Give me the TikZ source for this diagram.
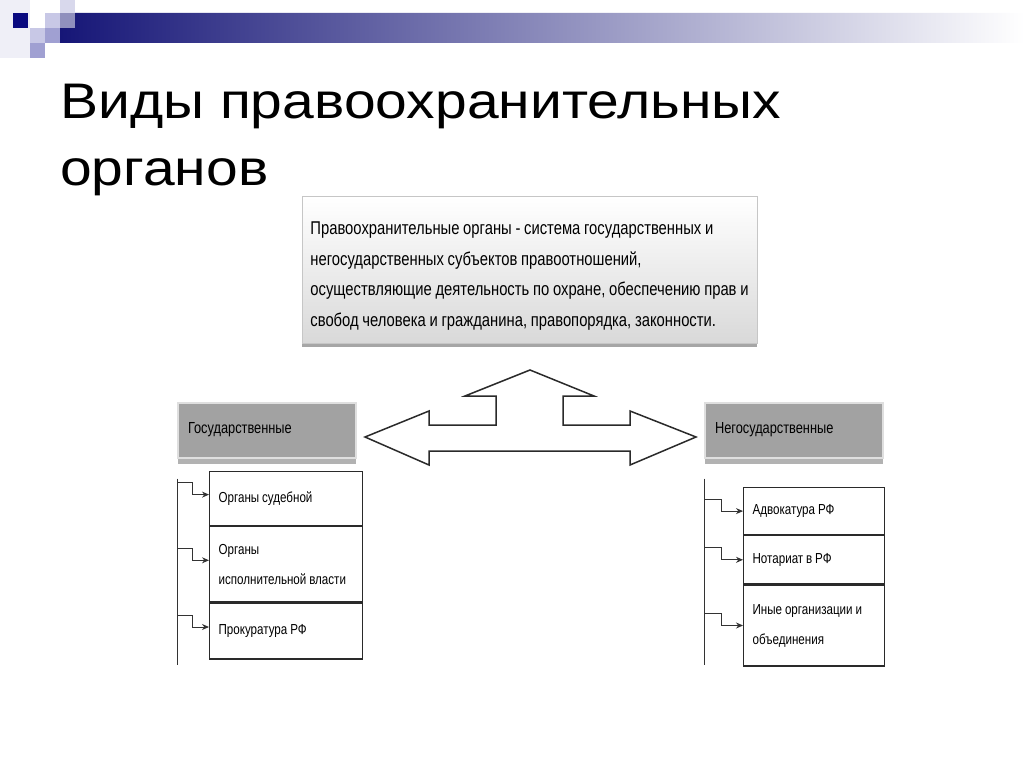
\documentclass[tikz,border=0pt]{standalone}
\usepackage{fontspec}
\setmainfont{Liberation Sans}
\newfontfamily\narrowfont[FakeStretch=0.8]{Liberation Sans}
\newfontfamily\titlefont[FakeStretch=1.14]{Liberation Sans}
\newcommand*{\tightspace}{\spaceskip=0.2em plus 0.04em minus 0.02em\relax}
\usetikzlibrary{positioning}
\usetikzlibrary{shadows,calc}
\usetikzlibrary{arrows,arrows.meta}
\definecolor{barnavy}{HTML}{161677}
\definecolor{barmid}{HTML}{ABABBF}
\definecolor{sqnavy}{HTML}{0A0A80}
\definecolor{sqlight}{HTML}{C8C8E6}
\definecolor{sqmid}{HTML}{A0A0D2}
\definecolor{sqpale}{HTML}{D8D8EC}
\definecolor{hdrgray}{HTML}{A2A2A2}
\definecolor{boxline}{HTML}{2A2A2A}

\begin{document}
\begin{tikzpicture}[x=1pt,y=-1pt,
    hdr/.style={draw=gray!25, line width=2pt, fill=hdrgray,
        minimum width=178pt, minimum height=55pt,
        text width=158pt, inner xsep=10pt, align=left,
        font=\narrowfont\fontsize{16}{19}\selectfont,
        execute at begin node=\tightspace,
        drop shadow={shadow xshift=0pt, shadow yshift=-6pt, fill=gray!60, opacity=1}},
    item/.style={draw=boxline, line width=1.2pt, fill=white,
        inner xsep=9pt, align=left,
        font=\narrowfont\fontsize{14.5}{30}\selectfont,
        execute at begin node=\tightspace},
    conn/.style={-{Stealth[length=7pt,width=6pt]}, line width=0.9pt, draw=black!80}
]
\useasboundingbox (0,0) rectangle (1024,767);

% Top bar and squares
\fill[sqpale!40] (0,0) rectangle (30,58);
\shade[left color=barnavy, middle color=barmid, right color=white]
    (60,28) -- (75,28) -- (75,13) -- (1024,13) -- (1024,43) -- (60,43) -- cycle;
\fill[sqnavy] (13,13) rectangle (28,28);
\fill[sqlight] (30,28) rectangle (45,43);
\fill[sqmid] (30,43) rectangle (45,58);
\fill[sqlight] (45,13) rectangle (60,28);
\fill[sqmid] (45,28) rectangle (60,43);
\fill[sqmid!90!black] (60,13) rectangle (75,28);
\fill[sqpale] (60,0) rectangle (75,13);

% Title
\node[anchor=north west, inner sep=0pt, align=left,
      font=\titlefont\fontsize{50}{67}\selectfont] (title) at (60,84)
    {Виды правоохранительных\\органов};

% Definition
\node[draw=gray!45, line width=1pt, top color=white, bottom color=gray!30,
      minimum width=455pt, minimum height=146pt, align=left,
      font=\narrowfont\fontsize{18.5}{30.5}\selectfont,
      execute at begin node=\tightspace,
      drop shadow={shadow xshift=0pt, shadow yshift=-4pt, fill=gray!70, opacity=1}
] (def) at (529.5,270)
    {\rule{0pt}{25pt}Правоохранительные органы - система государственных и\\
     негосударственных субъектов правоотношений,\\
     осуществляющие деятельность по охране, обеспечению прав и\\
     свобод человека и гражданина, правопорядка, законности.};

% Kinds
\node[hdr] (gov) at (267,430) {Государственные\\[8pt]};
\node[hdr] (nongov) at (794,430) {Негосударственные\\[8pt]};

% Block arrow
\coordinate (hub) at (530,437);
\draw[line width=1.5pt, draw=boxline, fill=white, line join=miter]
    ($(hub)+(-165,0)$) -- ++(64,-26) -- ++(0,14) -- ++(67,0) -- ++(0,-29)
    -- ++(-31,0) -- ++(65,-26) -- ++(64,26) -- ++(-31,0) -- ++(0,29)
    -- ++(67,0) -- ++(0,-14) -- ++(66,26) -- ++(-66,28) -- ++(0,-14)
    -- ++(-201,0) -- ++(0,14) -- cycle;

% State bodies
\node[item, anchor=north west, minimum width=153pt, minimum height=54pt, text width=135pt]
    (g1) at (209,471) {Органы судебной\\[-10pt]};
\node[item, below=0pt of g1, minimum width=153pt, minimum height=75pt, text width=135pt]
    (g2) {Органы\\исполнительной власти};
\node[item, below=0pt of g2, minimum width=153pt, minimum height=56pt, text width=135pt]
    (g3) {Прокуратура РФ\\[-6pt]};

% Non-state bodies
\node[item, anchor=north west, minimum width=141pt, minimum height=47pt, text width=123pt]
    (n1) at (743,487) {Адвокатура РФ};
\node[item, below=0pt of n1, minimum width=141pt, minimum height=48pt, text width=123pt]
    (n2) {Нотариат в РФ};
\node[item, below=0pt of n2, minimum width=141pt, minimum height=81pt, text width=123pt]
    (n3) {Иные организации и\\объединения};

% Trunks
\coordinate (gtop) at ($(gov.south west)+(0,20)$);
\coordinate (gend) at (gtop |- 0,665);
\coordinate (ntop) at ($(nongov.south west)+(0,20)$);
\coordinate (nend) at (ntop |- 0,665);
\draw[line width=1pt, black!80] (gtop) -- (gend);
\draw[line width=1pt, black!80] (ntop) -- (nend);

\foreach \b in {g1,g2,g3}{
  \draw[conn] ($(gtop |- \b.west)+(0,-16)$) -| ++(15,12) -- ($(\b.west)+(0,-4)$);
}
\foreach \b in {n1,n2,n3}{
  \draw[conn] ($(ntop |- \b.west)+(0,-12)$) -| ++(17,12) -- (\b.west);
}
\end{tikzpicture}
\end{document}
